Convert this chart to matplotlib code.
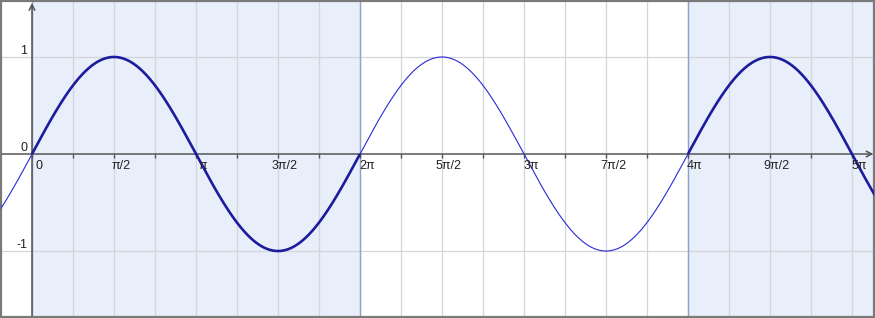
import numpy as np
import matplotlib.pyplot as plt
from matplotlib.markers import TICKDOWN

# x range shown and the highlighted intervals (in radians)
x_min, x_max = -0.594, 16.13
y_min, y_max = -1.68, 1.577
highlight = [(0, 2 * np.pi), (4 * np.pi, 17.0)]

# tick labels at multiples of pi/2
tick_steps = [0, 1, 2, 3, 4, 5, 6, 7, 8, 9, 10]
tick_labels = ['0', 'π/2', 'π', '3π/2', '2π', '5π/2', '3π', '7π/2', '4π', '9π/2', '5π']
y_ticks = [1, 0, -1]
y_tick_labels = ['1', '0', '-1']

shade = '#e8eefa'
dark = '#1c1c9e'
thin = '#2a2ad6'
grid_c = '#d2d5da'
txt = '#222222'

plt.rcParams['font.family'] = ['Liberation Sans', 'DejaVu Sans']

fig = plt.figure(figsize=(8.75, 3.18), dpi=100)
ax = fig.add_axes([1 / 875, 1 / 318, 873 / 875, 316 / 318])
ax.set_xlim(x_min, x_max)
ax.set_ylim(y_min, y_max)
ax.set_xticks([])
ax.set_yticks([])
for s in ax.spines.values():
    s.set_color('#7a7a7a')
    s.set_linewidth(1.6)

# shaded intervals
for a, b in highlight:
    ax.axvspan(a, b, color=shade, zorder=0, lw=0)
    ax.axvline(a, color='#8ea3c6', lw=1.0, zorder=1)
    ax.axvline(b, color='#8ea3c6', lw=1.0, zorder=1)

# grid every pi/4 and at y=+-1
grid_x = np.arange(-1, 21) * np.pi / 4
for gx in grid_x:
    ax.axvline(gx, color=grid_c, lw=0.9, zorder=0.5)
for gy in [1, -1]:
    ax.axhline(gy, color=grid_c, lw=0.9, zorder=0.5)

# axes with arrows
ax.annotate('', xy=(x_max - 0.01, 0), xytext=(x_min - 0.1, 0),
            arrowprops=dict(arrowstyle='->', color='#555555', lw=1.1, shrinkA=0, shrinkB=0),
            annotation_clip=False, zorder=2)
ax.annotate('', xy=(0, y_max - 0.02), xytext=(0, y_min - 0.1),
            arrowprops=dict(arrowstyle='->', color='#555555', lw=1.1, shrinkA=0, shrinkB=0),
            annotation_clip=False, zorder=2)
tick_x = np.arange(0, 21) * np.pi / 4
ax.plot(tick_x, np.zeros_like(tick_x), ls='none', marker=TICKDOWN, ms=3,
        mew=1.0, color='#555555', zorder=2)

# sine curve: thin everywhere, thick on highlighted intervals
x = np.linspace(x_min, x_max, 2000)
ax.plot(x, np.sin(x), color=thin, lw=0.8, zorder=3)
for a, b in highlight:
    xs = np.linspace(a, min(b, x_max + 0.1), 1000)
    ax.plot(xs, np.sin(xs), color=dark, lw=1.9, zorder=4, solid_capstyle='butt')

# tick labels
for k, lab in zip(tick_steps, tick_labels):
    ax.annotate(lab, xy=(k * np.pi / 2, 0), xytext=(5, -4), textcoords='offset points',
                ha='center', va='top', fontsize=9, color=txt, zorder=5)
for v, lab in zip(y_ticks, y_tick_labels):
    ax.annotate(lab, xy=(0, v), xytext=(-3.5, 0.2), textcoords='offset points',
                ha='right', va='bottom', fontsize=9, color=txt, zorder=5)

fig.savefig('out.png', dpi=100)
